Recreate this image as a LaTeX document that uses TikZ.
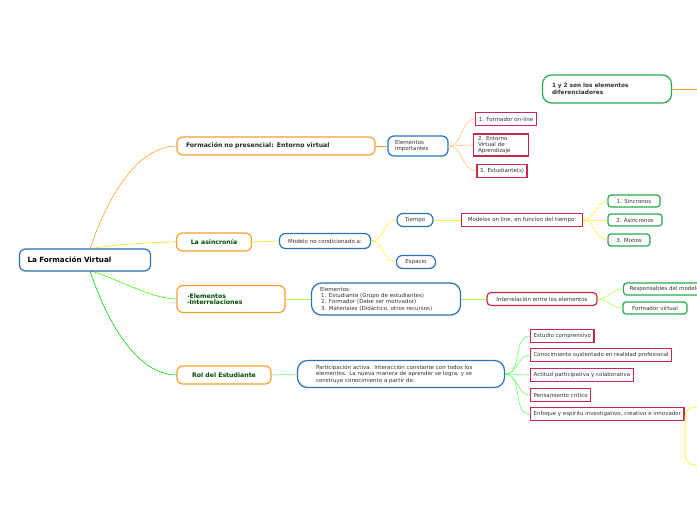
\documentclass[tikz,border=0pt]{standalone}
\usepackage{fontspec}
\setmainfont{DejaVu Sans}
\hyphenpenalty=10000
\exhyphenpenalty=10000
\definecolor{bl}{RGB}{40,115,185}
\definecolor{rd}{RGB}{200,40,75}
\definecolor{gr}{RGB}{40,170,80}
\definecolor{og}{RGB}{250,160,40}
\begin{document}
\begin{tikzpicture}[x=1pt,y=-1pt,
 base/.style={draw,line width=1.2pt,inner sep=2pt,font=\fontsize{5.5}{6.4}\selectfont,align=left,fill=white,text=black!80},
 blu/.style={base,draw=bl,rounded corners=6pt,inner xsep=5pt},
 org/.style={base,draw=og,rounded corners=6pt,font=\bfseries\fontsize{6.2}{7}\selectfont,text=black!85,inner xsep=6pt,minimum height=18pt},
 red/.style={base,draw=rd,inner xsep=3pt,minimum height=13pt},
 grn/.style={base,draw=gr,rounded corners=3pt,inner xsep=6pt,minimum height=12pt},
 e/.style={line width=0.6pt},
]
\useasboundingbox (0,0) rectangle (697,520);
\clip (0,0) rectangle (697,520);
\coordinate (r1) at (90,249);
\coordinate (r2) at (90,271);
\draw[e,og] (r1) .. controls (110,190) and (140,146) .. (177,146);
\draw[e,yellow!80!orange] (r1) .. controls (110,245) and (150,242) .. (177,242);
\draw[e,green!80!yellow] (r2) .. controls (110,275) and (150,299) .. (177,299);
\draw[e,green!85!black] (r2) .. controls (110,330) and (140,375) .. (177,375);
\node[base,draw=bl,rounded corners=6pt,font=\bfseries\fontsize{7.2}{8}\selectfont,text=black,minimum width=131pt,minimum height=22pt,text width=115pt] (root) at (85,260) {La Formación Virtual};
\node[org,minimum width=198pt,text width=180pt] (fnp) at (276,146) {Formación no presencial: Entorno virtual};
\node[org,text=green!30!black,minimum width=75pt,align=center] (asi) at (214,242) {La asincronía};
\node[org,text=green!30!black,font=\bfseries\fontsize{6.2}{6.4}\selectfont,minimum height=27pt,minimum width=108pt,text width=88pt] (ele) at (231,299) {-Elementos\\-Interrelaciones};
\node[org,text=green!30!black,minimum width=94pt,align=center] (rol) at (224,375) {Rol del Estudiante};
\node[blu,minimum width=60pt,minimum height=20pt,text width=46pt] (eim) at (418,146) {Elementos\\importantes};
\node[red] (f1) at (506,119) {1. Formador on-line};
\node[red,minimum width=55pt,text width=46pt] (f2) at (501,145) {2. Entorno\\Virtual de\\Aprendizaje};
\node[red] (f3) at (502,171) {3. Estudiante(s)};
\node[grn,font=\bfseries\fontsize{5.8}{6.6}\selectfont,rounded corners=9pt,minimum height=28pt,minimum width=129pt,text width=110pt] (dif) at (607,89) {1 y 2 son los elementos\\diferenciadores};
\draw[e,og] (dif.east) -- (705,89);
\draw[e,og] (fnp.east) -- (eim.west);
\foreach \n in {f1,f2,f3} \draw[e,og!60] (eim.east) to[out=0,in=180] (\n.west);
\node[blu,minimum width=91pt,minimum height=15pt] (mnc) at (325,241) {Modelo no condicionado a:};
\node[blu,minimum width=36pt,minimum height=13pt] (tie) at (415,220) {Tiempo};
\node[blu,minimum width=39pt,minimum height=13pt] (esp) at (416,262) {Espacio};
\node[red,minimum width=121pt] (mod) at (522,220) {Modelos on line, en funcion del tiempo:};
\node[grn,minimum width=52pt] (s1) at (634,201) {1. Síncronos};
\node[grn,minimum width=54pt] (s2) at (635,220) {2. Asíncronos};
\node[grn,minimum width=42pt] (s3) at (629,240) {3. Mixtos};
\draw[e,yellow!80!orange] (asi.east) -- (mnc.west);
\foreach \n in {tie,esp} \draw[e,yellow!80] (mnc.east) to[out=0,in=180] (\n.west);
\draw[e,yellow!80] (tie.east) -- (mod.west);
\foreach \n in {s1,s2,s3} \draw[e,yellow!80] (mod.east) to[out=0,in=180] (\n.west);
\node[blu,rounded corners=10pt,minimum width=149pt,minimum height=32pt,text width=132pt] (elm) at (386,299) {Elementos:\\\hspace*{1pt}1. Estudiante (Grupo de estudiantes)\\\hspace*{1pt}2. Formador (Debe ser motivador)\\\hspace*{1pt}3. Materiales (Didáctico, otros recursos)};
\node[red,rounded corners=4pt,inner xsep=6pt,minimum width=110pt] (int) at (542,299) {Interrelación entre los elementos};
\node[grn,anchor=west] (res) at (623,289) {Responsables del modelo};
\node[grn,minimum width=64pt] (fv) at (655,308) {Formador virtual};
\draw[e,green!50!yellow!70] (ele.east) -- (elm.west);
\draw[e,green!50!yellow!70] (elm.east) -- (int.west);
\foreach \n in {res,fv} \draw[e,green!50!yellow!70] (int.east) to[out=0,in=180] (\n.west);
\node[blu,rounded corners=10pt,minimum width=207pt,minimum height=27pt,text width=170pt] (par) at (401,374) {Participación activa. Interacción constante con todos los elementos. La nueva manera de aprender se logra, y se construye conocimiento a partir de:};
\node[red,anchor=west] (p1) at (530,336) {Estudio comprensivo};
\node[red,anchor=west] (p2) at (530,355) {Conocimiento sustentado en realidad profesional};
\node[red,anchor=west] (p3) at (530,375) {Actitud participativa y colaborativa};
\node[red,anchor=west] (p4) at (530,395) {Pensamiento crítico};
\node[red,anchor=west] (p5) at (530,414) {Enfoque y espíritu investigativo, creativo e innovador};
\draw[e,green!60] (rol.east) -- (par.west);
\foreach \n in {p1,p2,p3,p4,p5} \draw[e,green!60] (par.east) to[out=0,in=180] (\n.west);
\draw[line width=1pt,yellow!70,rounded corners=10pt] (705,407) -- (685,407) -- (685,465) -- (705,465);
\draw[e,yellow!70] (p5.east) -- (685,414);
\end{tikzpicture}
\end{document}
